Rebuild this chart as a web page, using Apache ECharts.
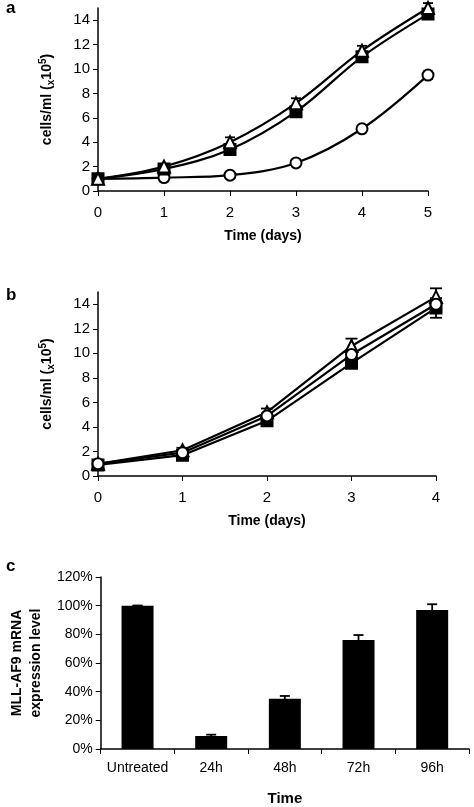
<!DOCTYPE html>
<html><head><meta charset="utf-8">
<script src="https://cdn.jsdelivr.net/npm/echarts@6/dist/echarts.min.js"></script>
<style>html,body{margin:0;padding:0;background:#fff}#c{width:474px;height:807px}</style>
</head><body><div id="c"></div>
<script>
const daysA = [0,1,2,3,4,5];
const aTri = [1,2.0,4.0,7.2,11.5,15.0];
const aTriErr = [0.1,0.2,0.4,0.4,0.4,0.4];
const aSq = [1,1.8,3.4,6.5,11.0,14.5];
const aSqErr = [0.1,0.1,0.2,0.3,0.3,0.3];
const aCir = [1,1.1,1.3,2.3,5.1,9.5];
const aCirErr = [0.1,0.1,0.1,0.2,0.2,0.3];
const daysB = [0,1,2,3,4];
const bTri = [1,2.1,5.2,10.6,14.6];
const bTriErr = [0.1,0.2,0.3,0.6,0.7];
const bCir = [1,1.9,4.9,9.9,14.0];
const bCirErr = [0.1,0.1,0.2,0.3,0.3];
const bSq = [0.9,1.7,4.5,9.2,13.7];
const bSqErr = [0.1,0.1,0.2,0.3,0.8];
const catsC = ['Untreated','24h','48h','72h','96h'];
const valsC = [100,9,35,76,97];
const errC = [0,1,2,3.5,4];

const F = 'Liberation Sans, Arial, sans-serif';
const black = '#000';
function xAxisVal(gi, max, name){
  return {gridIndex:gi,type:'value',min:0,max:max,interval:1,
    name:name,nameLocation:'middle',nameGap:38,
    nameTextStyle:{fontFamily:F,fontWeight:'bold',fontSize:14,color:black},
    axisLine:{lineStyle:{color:black,width:1.5}},axisTick:{lineStyle:{color:black}},
    axisLabel:{fontFamily:F,fontSize:15,color:black,margin:14},splitLine:{show:false}};
}
function yAxisCells(gi){
  return {gridIndex:gi,type:'value',min:0,max:15,interval:2,
    name:'{n|cells/ml (}{s|x}{n|10}{sup|5}{n|)}',nameLocation:'middle',nameGap:42,
    nameTextStyle:{rich:{n:{fontFamily:F,fontWeight:'bold',fontSize:14,color:black},
      s:{fontFamily:F,fontWeight:'bold',fontSize:10,color:black,verticalAlign:'bottom'},
      sup:{fontFamily:F,fontWeight:'bold',fontSize:10,color:black,verticalAlign:'top',padding:[0,0,8,0]}}},
    axisLine:{show:true,lineStyle:{color:black,width:1.5}},axisTick:{show:true,inside:false,lineStyle:{color:black}},
    axisLabel:{fontFamily:F,fontSize:15,color:black,showMaxLabel:false},splitLine:{show:false}};
}
function line(xi, xs, ys, symbol, fill, smooth){
  return {type:'line',xAxisIndex:xi,yAxisIndex:xi,data:xs.map((x,i)=>[x,ys[i]]),smooth:smooth?0.35:false,
    symbol:symbol,symbolSize:symbol==='triangle'?12:11,lineStyle:{color:black,width:2.2},
    itemStyle:{color:fill,borderColor:black,borderWidth:2},z:3};
}
function errs(xi, xs, ys, es, cap){
  return {type:'custom',xAxisIndex:xi,yAxisIndex:xi,z:2,data:xs.map((x,i)=>[x,ys[i],es[i]]),
    renderItem:function(p,api){
      const x=api.value(0),y=api.value(1),e=api.value(2);
      const top=api.coord([x,y+e]),bot=api.coord([x,y-e]);
      const s={stroke:black,lineWidth:1.8};
      return {type:'group',children:[
        {type:'line',shape:{x1:top[0],y1:top[1],x2:bot[0],y2:bot[1]},style:s},
        {type:'line',shape:{x1:top[0]-cap,y1:top[1],x2:top[0]+cap,y2:top[1]},style:s},
        {type:'line',shape:{x1:bot[0]-cap,y1:bot[1],x2:bot[0]+cap,y2:bot[1]},style:s}]};
    }};
}
const chart = echarts.init(document.getElementById('c'));
chart.setOption({
  animation:false,
  graphic:[
    {type:'text',left:6,top:0,style:{text:'a',font:'bold 17px '+F,fill:black}},
    {type:'text',left:6,top:287,style:{text:'b',font:'bold 17px '+F,fill:black}},
    {type:'text',left:6,top:558,style:{text:'c',font:'bold 17px '+F,fill:black}}
  ],
  grid:[{left:98,top:8,width:330,height:183},
        {left:98,top:292,width:338,height:184},
        {left:98,top:577,width:371,height:179}],
  xAxis:[xAxisVal(0,5,'Time (days)'),xAxisVal(1,4,'Time (days)'),
    {gridIndex:2,type:'category',data:catsC,
     name:'Time',nameLocation:'middle',nameGap:42,
     nameTextStyle:{fontFamily:F,fontWeight:'bold',fontSize:15,color:black},
     axisLine:{lineStyle:{color:black,width:1.5}},axisTick:{show:true,lineStyle:{color:black}},
     axisLabel:{fontFamily:F,fontSize:14,color:black,margin:12,interval:0}}],
  yAxis:[yAxisCells(0),yAxisCells(1),
    {gridIndex:2,type:'value',min:0,max:120,interval:20,
     name:'MLL-AF9 mRNA\nexpression level',nameLocation:'middle',nameGap:54,
     nameTextStyle:{fontFamily:F,fontWeight:'bold',fontSize:14,color:black,lineHeight:19},
     axisLine:{show:true,lineStyle:{color:black,width:1.5}},axisTick:{show:true,lineStyle:{color:black}},
     axisLabel:{fontFamily:F,fontSize:14,color:black,formatter:'{value}%'},splitLine:{show:false}}],
  series:[
    errs(0,daysA,aTri,aTriErr,5),errs(0,daysA,aSq,aSqErr,5),errs(0,daysA,aCir,aCirErr,5),
    line(0,daysA,aCir,'circle','#fff',true),
    line(0,daysA,aSq,'rect',black,true),
    line(0,daysA,aTri,'triangle','#fff',true),
    errs(1,daysB,bTri,bTriErr,6),errs(1,daysB,bCir,bCirErr,6),errs(1,daysB,bSq,bSqErr,6),
    line(1,daysB,bSq,'rect',black,false),
    line(1,daysB,bTri,'triangle','#fff',false),
    line(1,daysB,bCir,'circle','#fff',false),
    {type:'bar',xAxisIndex:2,yAxisIndex:2,data:valsC,barWidth:32,itemStyle:{color:black},z:2},
    errs(2,[0,1,2,3,4],valsC,errC,5)
  ]
});
</script></body></html>
